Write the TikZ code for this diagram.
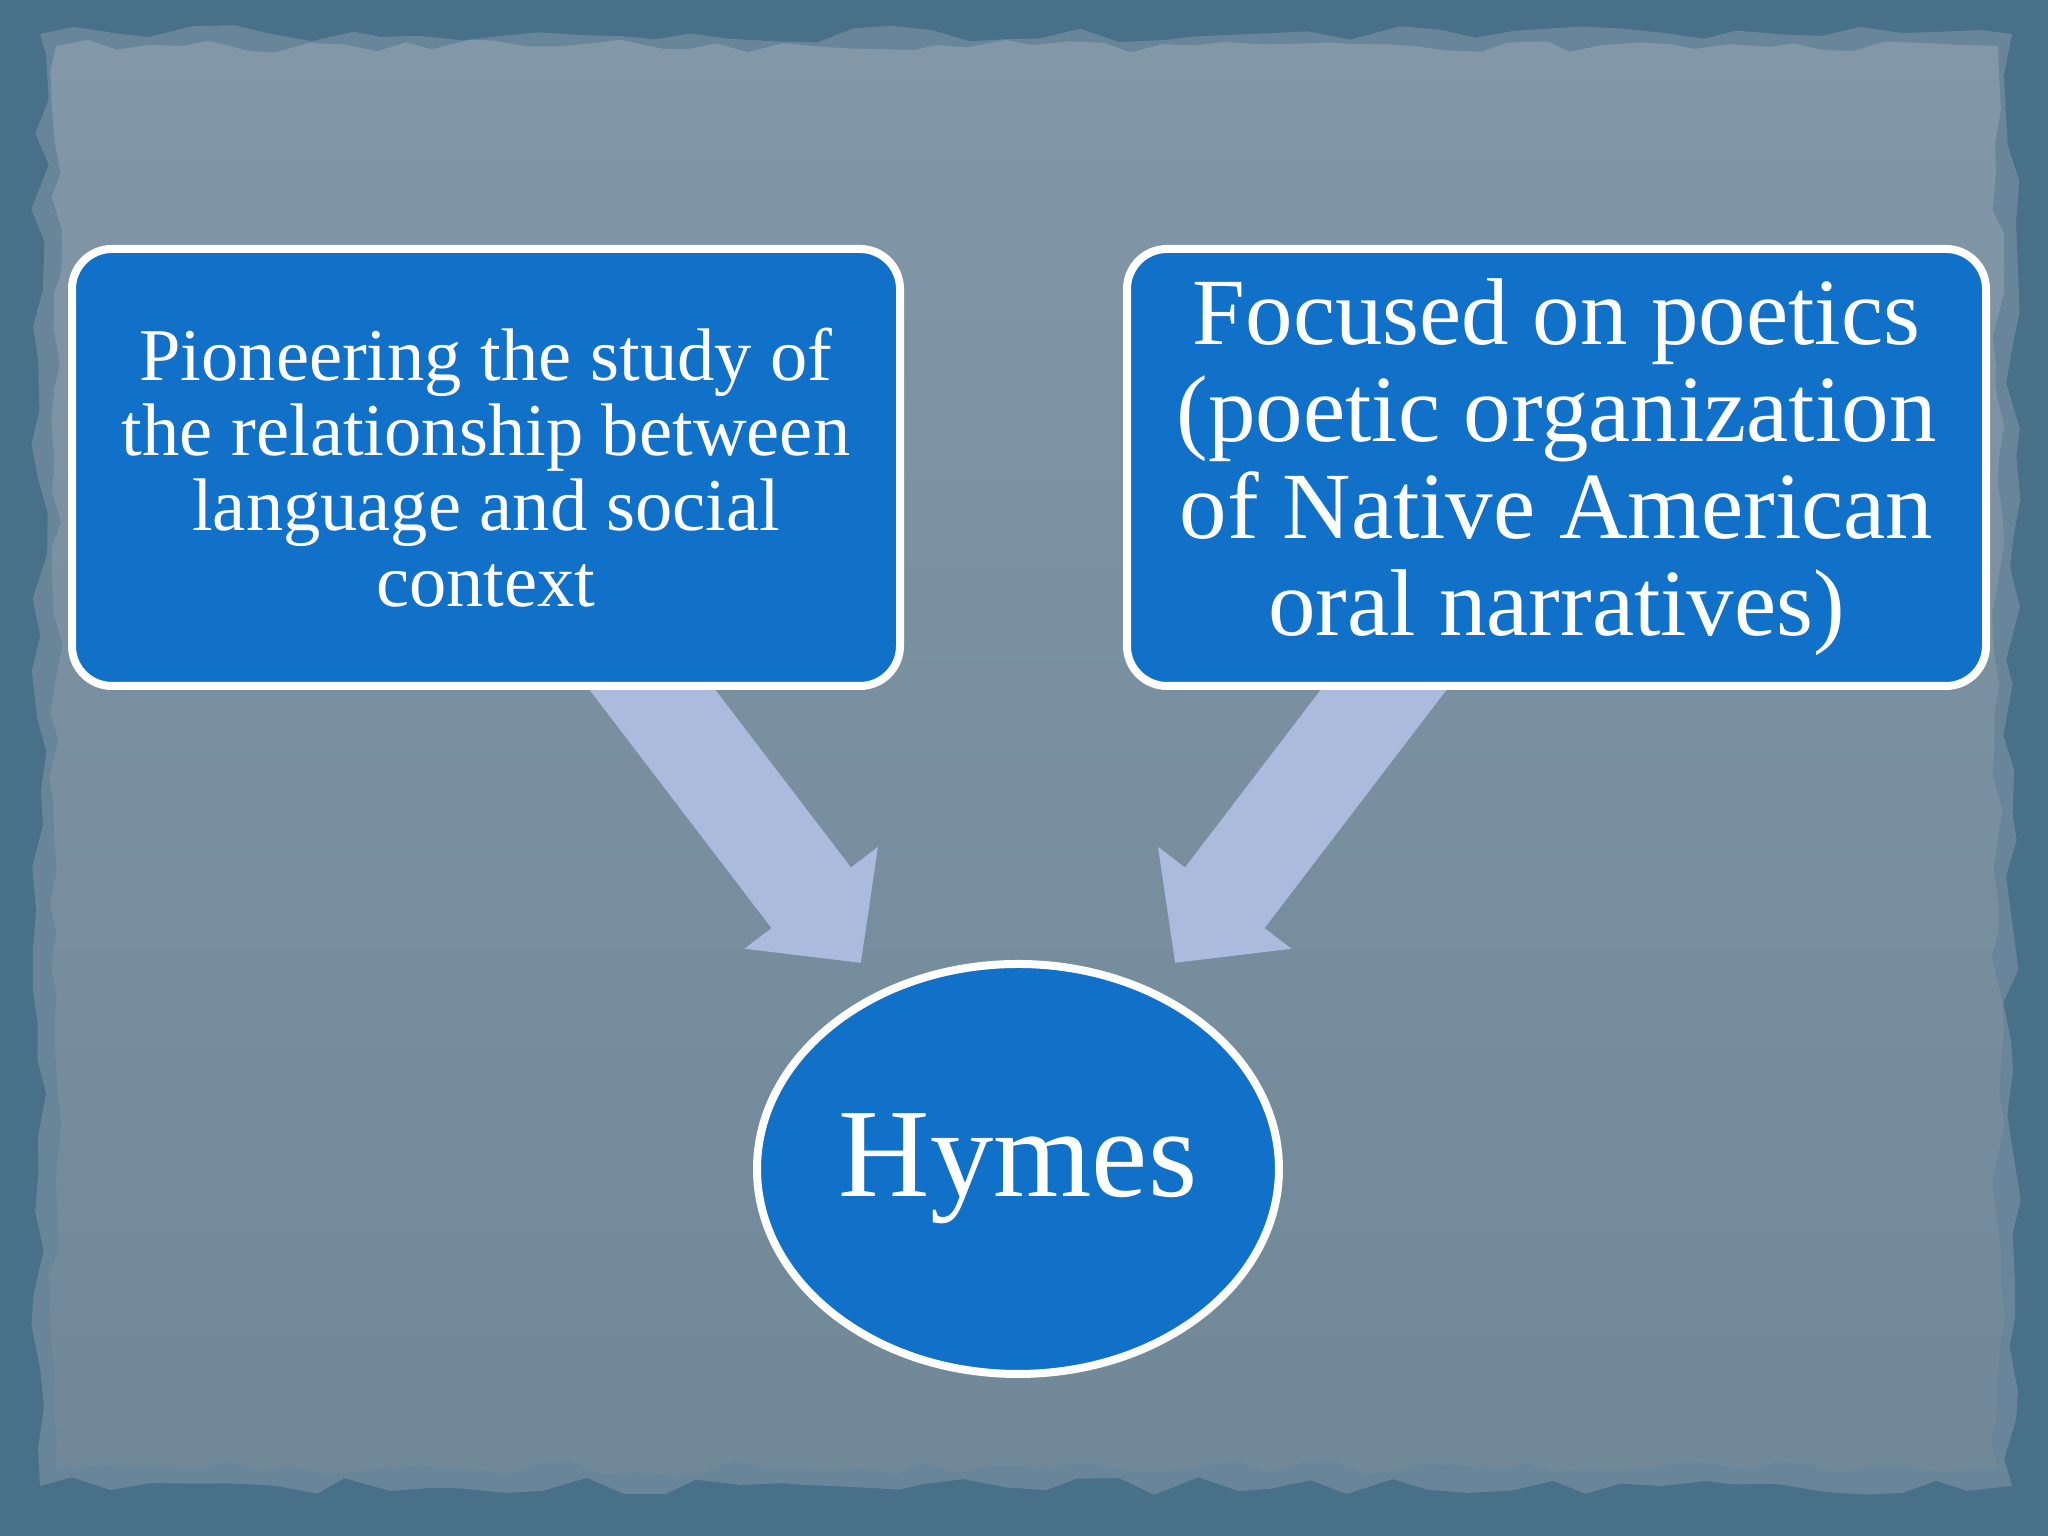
\documentclass[tikz,border=0pt]{standalone}
\usepackage{fontspec}
\setmainfont{Liberation Serif}
\usepackage{tikz}
\usetikzlibrary{shapes.geometric,arrows.meta,calc,decorations.pathmorphing}

\definecolor{frame}{RGB}{72,112,137}
\definecolor{papertop}{RGB}{130,151,167}
\definecolor{paperbot}{RGB}{112,136,152}
\definecolor{boxblue}{RGB}{17,112,200}
\definecolor{arrowblue}{RGB}{170,187,221}

\pgfdeclarelayer{paper}
\pgfdeclarelayer{links}
\pgfsetlayers{paper,links,main}

\begin{document}
\begin{tikzpicture}[
    box/.style={draw=white, line width=0.08cm, fill=boxblue, rounded corners=0.4cm,
                text=white, align=center, minimum height=4.37cm},
    hub/.style={ellipse, draw=white, line width=0.08cm, fill=boxblue, text=white,
                minimum width=5.22cm, minimum height=4.1cm, inner sep=0pt},
    link/.style={arrowblue, line width=1cm, -{Triangle[length=0.82cm, width=1.63cm]}}
  ]
				\useasboundingbox (0,0) rectangle (20.48,15.36);
				% background and torn paper
				\begin{pgfonlayer}{paper}
				\fill[frame] (0,0) rectangle (20.48,15.36);
				\pgfmathsetseed{7}
				\fill[papertop!55!frame, decorate, decoration={random steps, segment length=11pt, amplitude=2.5pt}]
					(0.40,0.50) rectangle (20.12,15.02);
				\shade[top color=papertop, bottom color=paperbot, decorate, decoration={random steps, segment length=9pt, amplitude=2pt}]
					(0.56,0.68) rectangle (19.98,14.90);
				\end{pgfonlayer}
				% boxes
				\node[box, minimum width=8.28cm, font=\fontsize{21.2}{21.4}\selectfont] (study) at (4.86,10.685)
					{Pioneering the study of\\the relationship between\\language and social\\context};
				\node[box, minimum width=8.59cm, font=\fontsize{27}{27.6}\selectfont] (poetics) at (15.565,10.685)
					{Focused on poetics\\(poetic organization\\of Native American\\oral narratives)};
				\node[hub, font=\fontsize{36}{40}\selectfont] (hymes) at (10.18,3.67) {Hymes};
				% arrows (under the boxes)
				\coordinate (studyout) at ($(study.south)+(1.36,0.40)$);
				\coordinate (poeticsout) at ($(poetics.south)+(-1.425,0.40)$);
				\coordinate (hymesinl) at ($(hymes.north)+(-1.57,-0.03)$);
				\coordinate (hymesinr) at ($(hymes.north)+(1.57,-0.03)$);
				\begin{pgfonlayer}{links}
				\draw[link] (studyout) -- (hymesinl);
				\draw[link] (poeticsout) -- (hymesinr);
				\end{pgfonlayer}
			\end{tikzpicture}
\end{document}
